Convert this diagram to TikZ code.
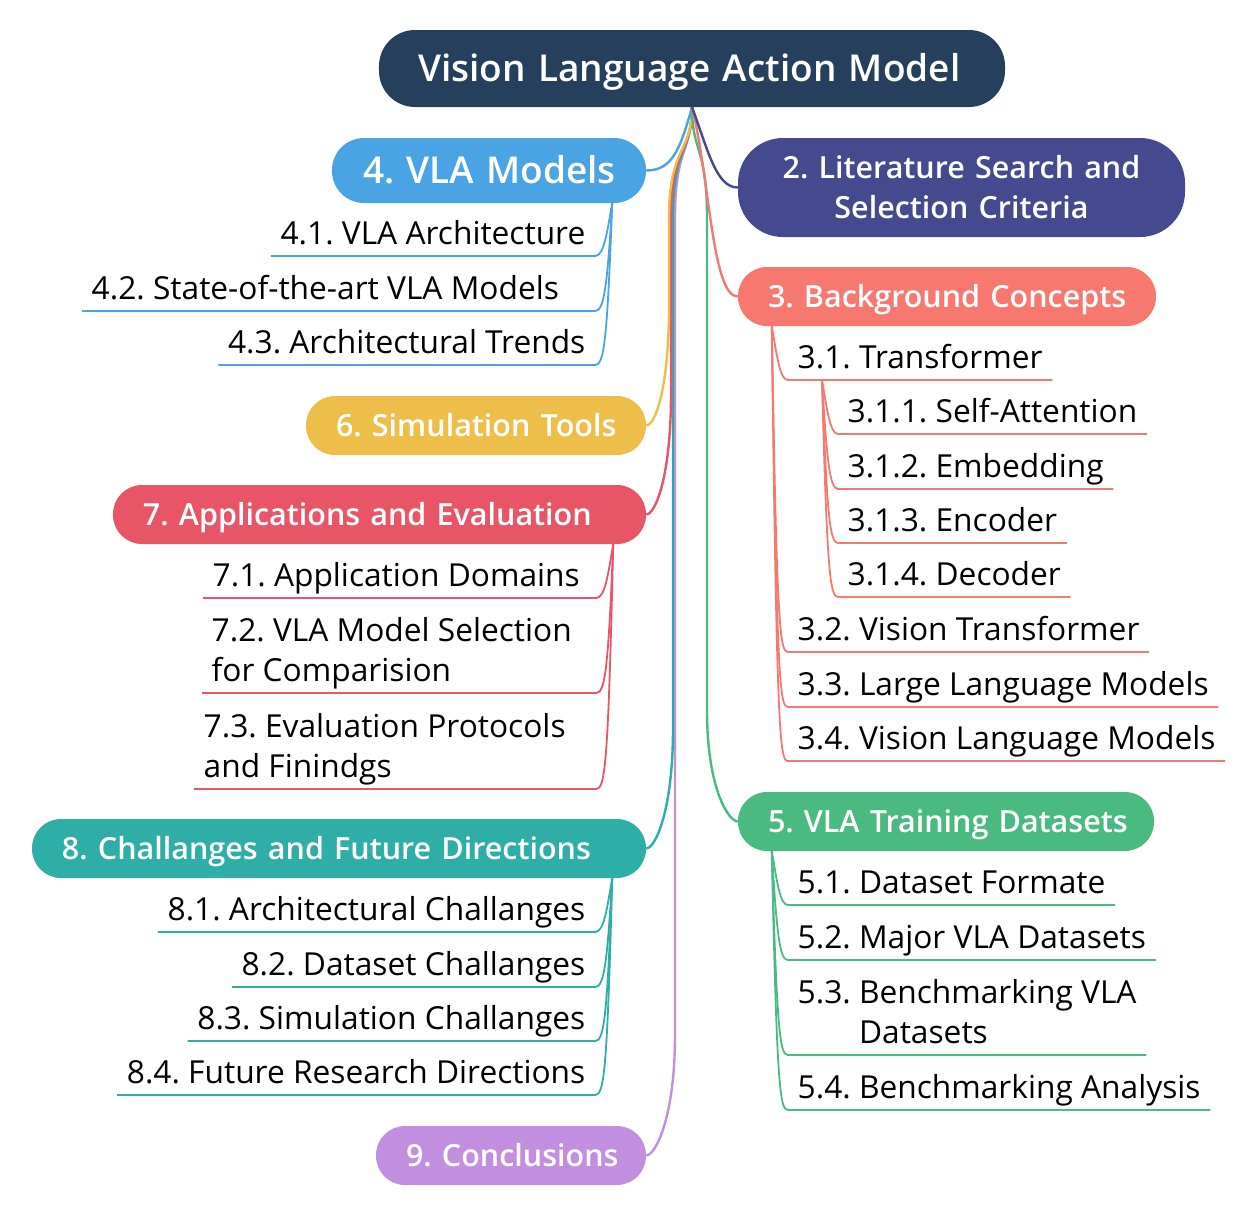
\documentclass[tikz,border=0pt]{standalone}
\usepackage{fontspec}
\setmainfont{Open Sans}
\IfFontExistsTF{Open Sans SemiBold}{\newfontfamily\headfont{Open Sans SemiBold}}{%
  \IfFontExistsTF{Open Sans Semibold}{\newfontfamily\headfont{Open Sans Semibold}}{\def\headfont{\bfseries}}}
\usetikzlibrary{calc,backgrounds}
\frenchspacing
\definecolor{cRoot}{HTML}{263F5D}
\definecolor{c4}{HTML}{4AA3E3}
\definecolor{c2}{HTML}{444A8D}
\definecolor{c3}{HTML}{F7786F}
\definecolor{c6}{HTML}{EEBE4B}
\definecolor{c7}{HTML}{E75567}
\definecolor{c8}{HTML}{2FADA7}
\definecolor{c5}{HTML}{4ABA81}
\definecolor{c9}{HTML}{C28FE0}
\newcommand\mainfs{\frenchspacing\headfont\fontsize{30.5bp}{40bp}\selectfont}
\newcommand\bigfs{\frenchspacing\headfont\fontsize{37bp}{44bp}\selectfont}
\newcommand\subfs{\frenchspacing\fontsize{31.7bp}{40bp}\selectfont}
\newcommand\dep{\rule[-11bp]{0pt}{0pt}}
\newcommand\brL[3]{\draw[sc,#1] let \p1=(#2), \p2=(#3.south west) in
  (\p1) .. controls (\x1-5bp,\y2+25bp) and (\x1-8bp,\y2) .. (\x1-17bp,\y2) -- (\p2);}
\newcommand\brR[3]{\draw[sc,#1] let \p1=(#2), \p2=(#3.south east) in
  (\p1) .. controls (\x1+5bp,\y2+25bp) and (\x1+8bp,\y2) .. (\x1+16bp,\y2) -- (\p2);}
\begin{document}
\begin{tikzpicture}[x=1bp,y=-1bp,
  mc/.style={line width=2.4bp},
  sc/.style={line width=1.8bp},
  mainbox/.style={fill=#1, text=white, font=\mainfs, inner xsep=30bp, inner ysep=0pt,
    text height=21.8bp, text depth=0pt, align=left, rounded corners=29bp, minimum height=59bp},
  subbase/.style={font=\subfs, inner xsep=9.5bp, inner ysep=0pt, align=left, text=black},
  subL/.style={subbase, anchor=south east},
  subW/.style={subbase, anchor=south west}]
\useasboundingbox (0,0) rectangle (1254,1210);
% main nodes
\node[mainbox=cRoot, font=\bigfs, text height=26.4bp, minimum height=77bp, rounded corners=36bp,
  inner xsep=39bp, text width=548bp] (root) at (692,68.5) {\mbox{Vision Language Action Model}};
\node[mainbox=c4, font=\bigfs, text height=26.4bp, minimum height=65bp, rounded corners=32bp,
  inner xsep=31bp, text width=252bp] (n4) at (489,170.5) {\mbox{4. VLA Models}};
\node[mainbox=c2, align=center, text depth=40bp, minimum height=99bp, rounded corners=45bp,
  text width=387bp] (n2) at (961.5,187.5) {2. Literature Search and\\Selection Criteria};
\node[mainbox=c3, text width=358bp] (n3) at (947,296.5) {\mbox{3. Background Concepts}};
\node[mainbox=c6, text width=280bp] (n6) at (476,425.5) {\mbox{6. Simulation Tools}};
\node[mainbox=c7, text width=473bp] (n7) at (379.5,514.5) {\mbox{7. Applications and Evaluation}};
\node[mainbox=c8, text width=554bp] (n8) at (339,848.5) {\mbox{8. Challanges and Future Directions}};
\node[mainbox=c5, text width=356bp] (n5) at (946,821.5) {\mbox{5. VLA Training Datasets}};
\node[mainbox=c9, text width=210bp] (n9) at (511,1155.5) {\mbox{9. Conclusions}};
% sub nodes left
\node[subL] (s41) at (595,256) {4.1. VLA Architecture\dep};
\node[subW] (s42) at (82,311) {4.2. State-of-the-art VLA Models\dep};
\node[subL] (s43) at (595,365) {4.3. Architectural Trends\dep};
\node[subW] (s71) at (203,598) {7.1. Application Domains\dep};
\node[subW] (s72) at (202,693) {7.2. VLA Model Selection\\for Comparision\dep};
\node[subW] (s73) at (194,789) {7.3. Evaluation Protocols\\and Finindgs\dep};
\node[subL] (s81) at (595,932) {8.1. Architectural Challanges\dep};
\node[subL] (s82) at (595,987) {8.2. Dataset Challanges\dep};
\node[subL] (s83) at (595,1041) {8.3. Simulation Challanges\dep};
\node[subL] (s84) at (595,1095) {8.4. Future Research Directions\dep};
% sub nodes right
\node[subW] (s31) at (788,380) {3.1. Transformer\dep};
\node[subW] (s311) at (838,434) {3.1.1. Self-Attention\dep};
\node[subW] (s312) at (838,489) {3.1.2. Embedding\dep};
\node[subW] (s313) at (838,543) {3.1.3. Encoder\dep};
\node[subW] (s314) at (838,597) {3.1.4. Decoder\dep};
\node[subW] (s32) at (788,652) {3.2. Vision Transformer\dep};
\node[subW] (s33) at (788,707) {3.3. Large Language Models\dep};
\node[subW] (s34) at (788,761) {3.4. Vision Language Models\dep};
\node[subW] (s51) at (788,905) {5.1. Dataset Formate\dep};
\node[subW] (s52) at (788,960) {5.2. Major VLA Datasets\dep};
\node[subW] (s53) at (788,1055) {5.3. Benchmarking VLA\\\phantom{5.3. }Datasets\dep};
\node[subW] (s54) at (788,1110) {5.4. Benchmarking Analysis\dep};
% attachment points
\coordinate (p4) at ([xshift=-34bp]n4.south east);
\coordinate (p7) at ([xshift=-33bp]n7.south east);
\coordinate (p8) at ([xshift=-34bp]n8.south east);
\coordinate (p3) at ([xshift=34bp]n3.south west);
\coordinate (p5) at ([xshift=34bp]n5.south west);
\coordinate (p31) at ([xshift=34bp]s31.south west);
\begin{scope}[on background layer]
% main connectors
\draw[mc,c9] (root.south) .. controls +(0,45) and +(0,-70) .. (675,217) -- (675,1035)
  .. controls (675,1119) and (655,1155.5) .. (n9.east);
\draw[mc,c8] (root.south) .. controls +(0,45) and +(0,-70) .. (673,217) -- (673,728)
  .. controls (673,812) and (655,848.5) .. (n8.east);
\draw[mc,c7] (root.south) .. controls +(0,45) and +(0,-70) .. (671,217) -- (671,394)
  .. controls (671,478) and (655,514.5) .. (n7.east);
\draw[mc,c6] (root.south) .. controls +(0,45) and +(0,-70) .. (669,217) -- (669,305)
  .. controls (669,390) and (655,425.5) .. (n6.east);
\draw[mc,c4] (root.south) .. controls (680,150) and (672,170.5) .. (n4.east);
\draw[mc,c5] (root.south) .. controls +(0,45) and +(0,-70) .. (707,217) -- (707,710)
  .. controls (707,790) and (729,821.5) .. (n5.west);
\draw[mc,c3] (root.south) .. controls (710,180) and (712,296.5) .. (n3.west);
\draw[mc,c2] (root.south) .. controls (708,150) and (716,187.5) .. (n2.west);
% sub connectors
\brL{c4}{p4}{s41} \brL{c4}{p4}{s42} \brL{c4}{p4}{s43}
\brL{c7}{p7}{s71} \brL{c7}{p7}{s72} \brL{c7}{p7}{s73}
\brL{c8}{p8}{s81} \brL{c8}{p8}{s82} \brL{c8}{p8}{s83} \brL{c8}{p8}{s84}
\brR{c3}{p3}{s31} \brR{c3}{p3}{s32} \brR{c3}{p3}{s33} \brR{c3}{p3}{s34}
\brR{c3}{p31}{s311} \brR{c3}{p31}{s312} \brR{c3}{p31}{s313} \brR{c3}{p31}{s314}
\brR{c5}{p5}{s51} \brR{c5}{p5}{s52} \brR{c5}{p5}{s53} \brR{c5}{p5}{s54}
\end{scope}
\end{tikzpicture}
\end{document}
